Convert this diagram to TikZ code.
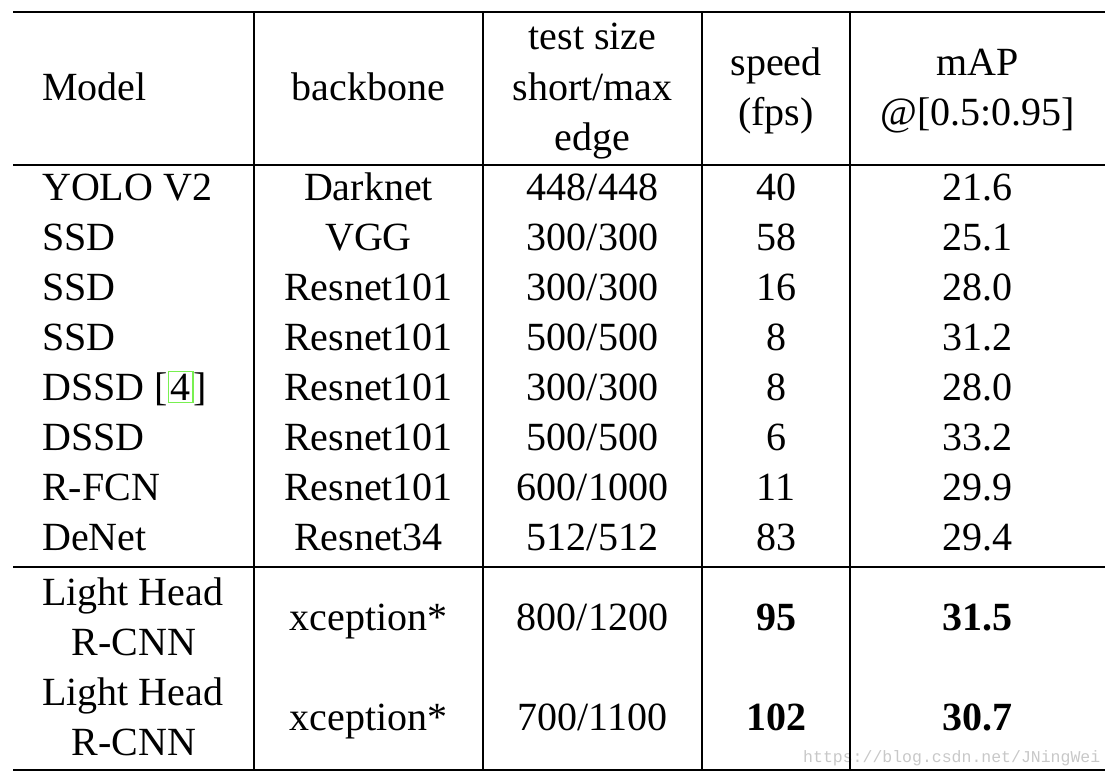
\documentclass[tikz,border=0pt]{standalone}
\usepackage{fontspec}
\setmainfont{Liberation Serif}
\newfontfamily\wmfont{Liberation Mono}
\usepackage{tikz}
\usetikzlibrary{positioning}
\definecolor{citegreen}{RGB}{120,240,80}
\definecolor{wmgray}{RGB}{200,200,200}
\newcommand{\citebox}[1]{{\setlength{\fboxrule}{1.5pt}\setlength{\fboxsep}{1.5pt}\fcolorbox{citegreen}{white}{#1}}}

\begin{document}
\begin{tikzpicture}[x=1pt, y=-1pt]
		\tikzstyle{cell}=[inner sep=0pt, anchor=base, font=\fontsize{40}{50}\selectfont]
		\tikzstyle{lcell}=[cell, anchor=base west]
		\tikzstyle{rule}=[line width=2pt, black]
		
		\useasboundingbox (0,0) rectangle (1114,776);
		
		% kopfzeile
		\node[lcell] (hmodel) at (42,100) {Model};
		\node[cell] (hback) at (368.5,100) {backbone};
		\node[cell] (hsize1) at (592.5,50) {test size};
		\node[cell] (hsize2) at (592.5,100) {short/max};
		\node[cell] (hsize3) at (592.5,150) {edge};
		\node[cell] (hspeed1) at (776,75) {speed};
		\node[cell] (hspeed2) at (776,125) {(fps)};
		\node[cell] (hmap1) at (977.5,75) {mAP};
		\node[cell] (hmap2) at (977.5,125) {@[0.5:0.95]};
		
		% zeilen
		\node[lcell] (m1) at (42,200) {YOLO V2};
		\node[cell] (b1) at (368.5,200) {Darknet};
		\node[cell] (s1) at (592.5,200) {448/448};
		\node[cell] (f1) at (776,200) {40};
		\node[cell] (p1) at (977.5,200) {21.6};
		
		\node[lcell] (m2) at (42,250) {SSD};
		\node[cell] (b2) at (368.5,250) {VGG};
		\node[cell] (s2) at (592.5,250) {300/300};
		\node[cell] (f2) at (776,250) {58};
		\node[cell] (p2) at (977.5,250) {25.1};
		
		\node[lcell] (m3) at (42,300) {SSD};
		\node[cell] (b3) at (368.5,300) {Resnet101};
		\node[cell] (s3) at (592.5,300) {300/300};
		\node[cell] (f3) at (776,300) {16};
		\node[cell] (p3) at (977.5,300) {28.0};
		
		\node[lcell] (m4) at (42,350) {SSD};
		\node[cell] (b4) at (368.5,350) {Resnet101};
		\node[cell] (s4) at (592.5,350) {500/500};
		\node[cell] (f4) at (776,350) {8};
		\node[cell] (p4) at (977.5,350) {31.2};
		
		\node[lcell] (m5) at (42,400) {DSSD [\citebox{4}]};
		\node[cell] (b5) at (368.5,400) {Resnet101};
		\node[cell] (s5) at (592.5,400) {300/300};
		\node[cell] (f5) at (776,400) {8};
		\node[cell] (p5) at (977.5,400) {28.0};
		
		\node[lcell] (m6) at (42,450) {DSSD};
		\node[cell] (b6) at (368.5,450) {Resnet101};
		\node[cell] (s6) at (592.5,450) {500/500};
		\node[cell] (f6) at (776,450) {6};
		\node[cell] (p6) at (977.5,450) {33.2};
		
		\node[lcell] (m7) at (42,500) {R-FCN};
		\node[cell] (b7) at (368.5,500) {Resnet101};
		\node[cell] (s7) at (592.5,500) {600/1000};
		\node[cell] (f7) at (776,500) {11};
		\node[cell] (p7) at (977.5,500) {29.9};
		
		\node[lcell] (m8) at (42,550) {DeNet};
		\node[cell] (b8) at (368.5,550) {Resnet34};
		\node[cell] (s8) at (592.5,550) {512/512};
		\node[cell] (f8) at (776,550) {83};
		\node[cell] (p8) at (977.5,550) {29.4};
		
		% light head
		\node[lcell] (m9a) at (42,605) {Light Head};
		\node[cell] (m9b) at (134,655) {R-CNN};
		\node[cell] (b9) at (368.5,630) {xception*};
		\node[cell] (s9) at (592.5,630) {800/1200};
		\node[cell] (f9) at (776,630) {\textbf{95}};
		\node[cell] (p9) at (977.5,630) {\textbf{31.5}};
		
		\node[lcell] (m10a) at (42,705) {Light Head};
		\node[cell] (m10b) at (134,755) {R-CNN};
		\node[cell] (b10) at (368.5,730) {xception*};
		\node[cell] (s10) at (592.5,730) {700/1100};
		\node[cell] (f10) at (776,730) {\textbf{102}};
		\node[cell] (p10) at (977.5,730) {\textbf{30.7}};
		
		\node[anchor=base west, inner sep=0pt, font=\wmfont\fontsize{16.5}{18}\selectfont, text=wmgray] (wm) at (803,762) {https://blog.csdn.net/JNingWei};
		
		% linien
		\draw[rule] (13,12) -- (1105,12);
		\draw[rule] (13,165) -- (1105,165);
		\draw[rule] (13,567) -- (1105,567);
		\draw[rule] (13,770) -- (1105,770);
		\draw[rule] (254,12) -- (254,770);
		\draw[rule] (483,12) -- (483,770);
		\draw[rule] (702,12) -- (702,770);
		\draw[rule] (850,12) -- (850,770);
		
	\end{tikzpicture}
\end{document}
